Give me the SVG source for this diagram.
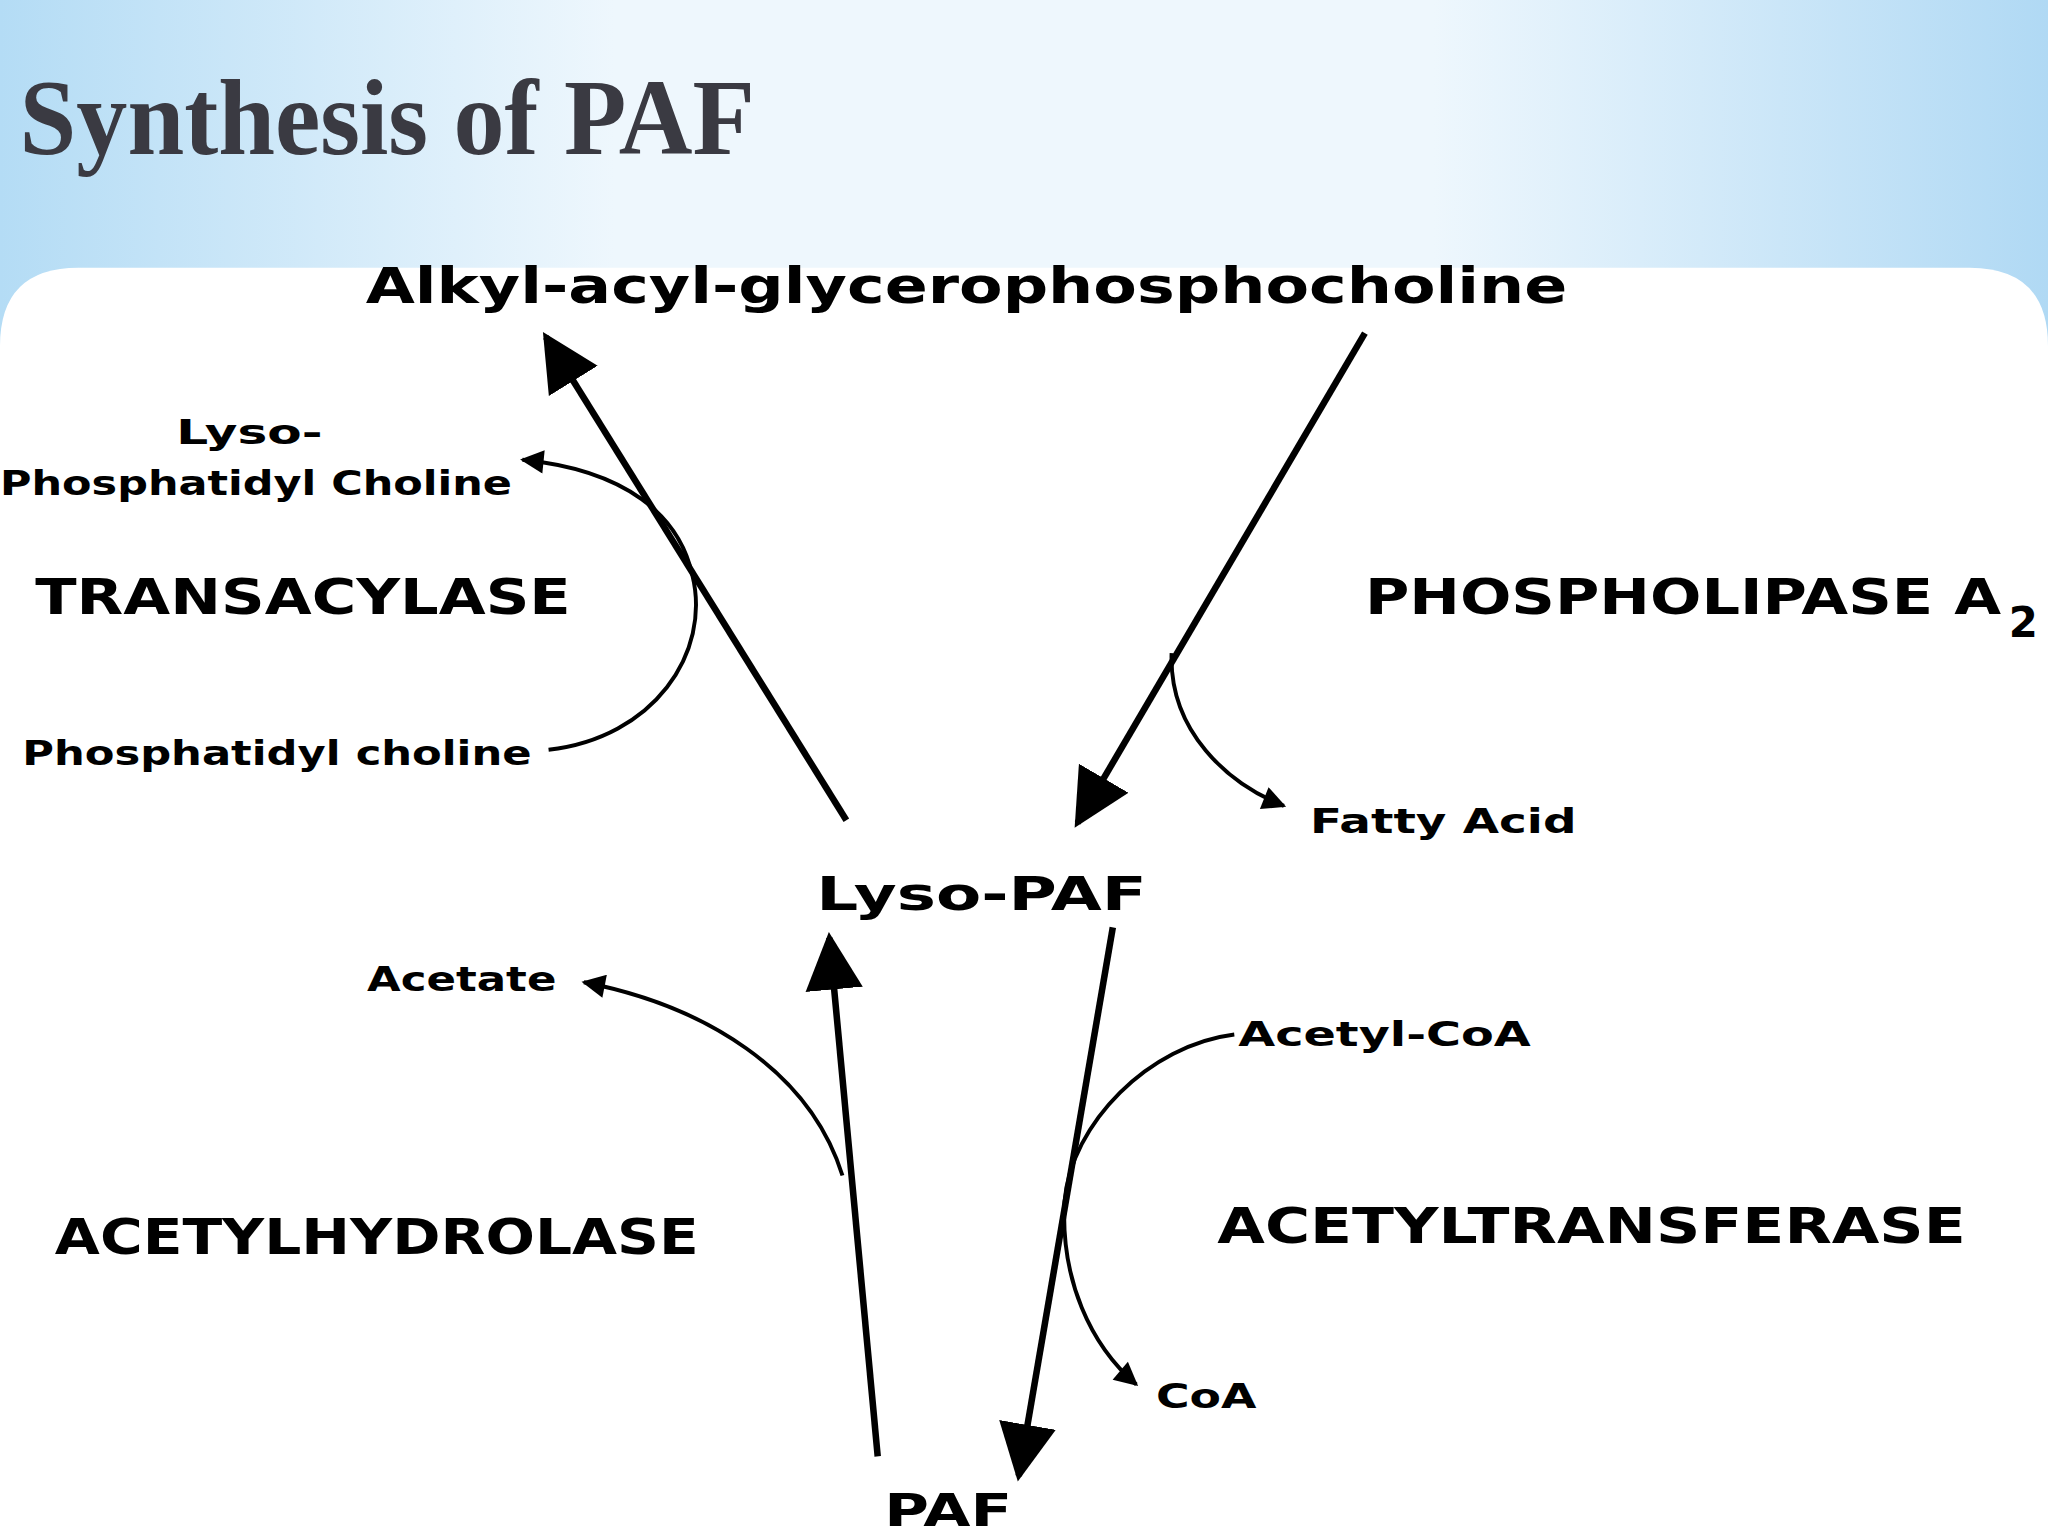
<svg xmlns="http://www.w3.org/2000/svg" width="2048" height="1536" viewBox="0 0 2048 1536">
<defs>
<linearGradient id="bg" x1="0" y1="0" x2="1" y2="0">
<stop offset="0" stop-color="#b4dcf5"/><stop offset="0.3" stop-color="#eef7fd"/><stop offset="0.7" stop-color="#eef7fd"/><stop offset="1" stop-color="#b0d9f4"/>
</linearGradient>
<marker id="sm" viewBox="0 0 10 10" refX="9" refY="5" markerWidth="24" markerHeight="18" orient="auto" markerUnits="userSpaceOnUse"><path d="M0,0 L10,5 L0,10 z"/></marker>
<marker id="lg" viewBox="0 0 10 10" refX="9" refY="5" markerWidth="44" markerHeight="50" orient="auto" markerUnits="userSpaceOnUse"><path d="M0,0 L10,5 L0,10 z"/></marker>
</defs>
<style>
.t{font-family:"DejaVu Sans",sans-serif;font-weight:bold;fill:#000}
.ln{stroke:#000;stroke-width:5;fill:none}
.cv{stroke:#000;stroke-width:3;fill:none}
</style>
<rect width="2048" height="1536" fill="url(#bg)"/>
<g transform="scale(1.30612)">
<path d="M60,205 H1508 Q1568,205 1568,265 V1176 H0 V265 Q0,205 60,205 Z" fill="#fff"/>
<g id="title"><text x="15" y="118" font-family="Liberation Serif,serif" font-weight="bold" font-size="82" fill="#3a3a42" textLength="563" lengthAdjust="spacingAndGlyphs">Synthesis of PAF</text></g>
<g id="connectors">
<line class="ln" x1="648" y1="628" x2="418" y2="258" marker-end="url(#lg)"/>
<line class="ln" x1="1045" y1="255" x2="825" y2="630" marker-end="url(#lg)"/>
<path class="cv" d="M420,574 C500,565 545,500 530,440 C520,395 480,360 400,352" marker-end="url(#sm)"/>
<path class="cv" d="M897,500 C895,560 940,600 983,617" marker-end="url(#sm)"/>
<line class="ln" x1="672" y1="1115" x2="635" y2="718" marker-end="url(#lg)"/>
<line class="ln" x1="852" y1="710" x2="780" y2="1130" marker-end="url(#lg)"/>
<path class="cv" d="M645,900 C620,820 540,770 447,752" marker-end="url(#sm)"/>
<path class="cv" d="M945,792 C880,800 820,860 815,920 C812,980 835,1030 870,1060" marker-end="url(#sm)"/>
</g>
<g id="alkyl"><text class="t" x="280" y="232" font-size="38" textLength="920" lengthAdjust="spacingAndGlyphs">Alkyl-acyl-glycerophosphocholine</text></g>
<g id="lysopaf"><text class="t" x="625" y="697" font-size="36" textLength="253" lengthAdjust="spacingAndGlyphs">Lyso-PAF</text></g>
<g id="paf"><text class="t" x="677" y="1168" font-size="34" textLength="98" lengthAdjust="spacingAndGlyphs">PAF</text></g>
<g id="transacylase"><text class="t" x="27" y="470" font-size="38" textLength="410" lengthAdjust="spacingAndGlyphs">TRANSACYLASE</text></g>
<g id="pla2"><text class="t" x="1045" y="470" font-size="38" textLength="487" lengthAdjust="spacingAndGlyphs">PHOSPHOLIPASE A</text><text class="t" x="1538" y="488" font-size="32">2</text></g>
<g id="acetylhydrolase"><text class="t" x="42" y="960" font-size="38" textLength="493" lengthAdjust="spacingAndGlyphs">ACETYLHYDROLASE</text></g>
<g id="acetyltransferase"><text class="t" x="932" y="952" font-size="38" textLength="573" lengthAdjust="spacingAndGlyphs">ACETYLTRANSFERASE</text></g>
<g id="lpc"><text class="t" x="135" y="340" font-size="26" textLength="112" lengthAdjust="spacingAndGlyphs">Lyso-</text><text class="t" x="0" y="379" font-size="26" textLength="392" lengthAdjust="spacingAndGlyphs">Phosphatidyl Choline</text></g>
<g id="pc"><text class="t" x="17" y="586" font-size="26" textLength="390" lengthAdjust="spacingAndGlyphs">Phosphatidyl choline</text></g>
<g id="fa"><text class="t" x="1003" y="638" font-size="26" textLength="204" lengthAdjust="spacingAndGlyphs">Fatty Acid</text></g>
<g id="acetate"><text class="t" x="281" y="759" font-size="26" textLength="145" lengthAdjust="spacingAndGlyphs">Acetate</text></g>
<g id="acoa"><text class="t" x="948" y="801" font-size="26" textLength="224" lengthAdjust="spacingAndGlyphs">Acetyl-CoA</text></g>
<g id="coa"><text class="t" x="885" y="1078" font-size="26" textLength="77" lengthAdjust="spacingAndGlyphs">CoA</text></g>
</g>
</svg>
